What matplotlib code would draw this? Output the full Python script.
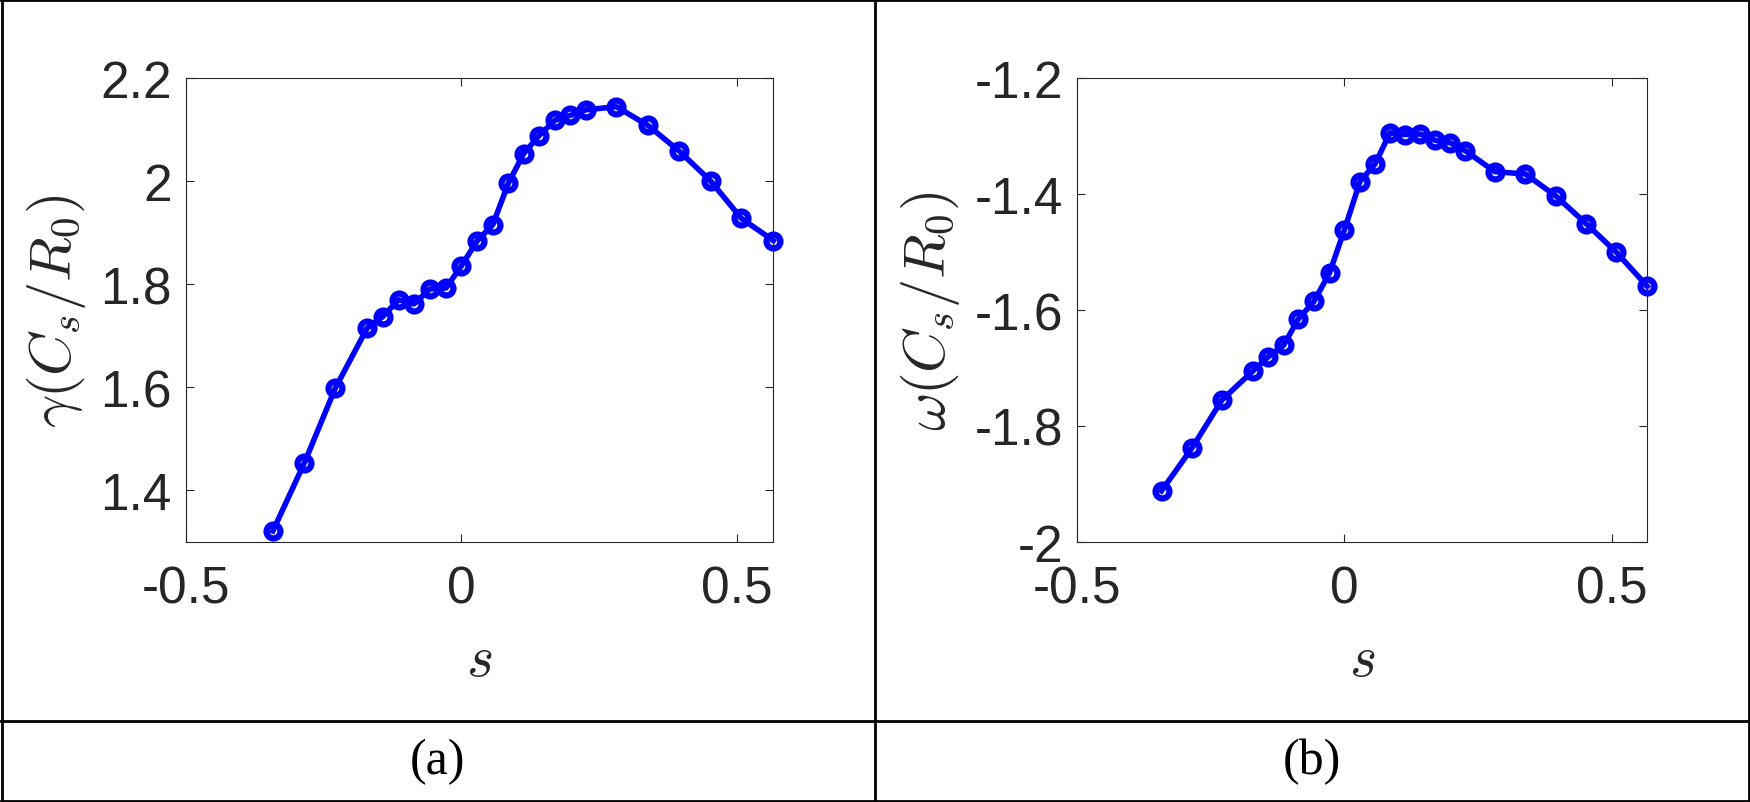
import matplotlib
matplotlib.use("Agg")
import matplotlib.pyplot as plt
from matplotlib.lines import Line2D
from matplotlib.ticker import FuncFormatter

# ---- data ----
s_vals = [-0.342, -0.285, -0.229, -0.171, -0.143, -0.114, -0.086, -0.057, -0.028, 0.0,
          0.029, 0.057, 0.085, 0.113, 0.141, 0.170, 0.197, 0.226, 0.281, 0.338,
          0.395, 0.452, 0.508, 0.566]
gamma_vals = [1.321, 1.453, 1.598, 1.715, 1.737, 1.770, 1.762, 1.791, 1.793, 1.836,
              1.885, 1.916, 1.996, 2.054, 2.089, 2.119, 2.128, 2.139, 2.145, 2.109,
              2.059, 2.001, 1.928, 1.885]
omega_vals = [-1.912, -1.838, -1.755, -1.705, -1.681, -1.661, -1.615, -1.585, -1.536, -1.461,
              -1.378, -1.348, -1.294, -1.297, -1.296, -1.307, -1.311, -1.325, -1.361, -1.365,
              -1.403, -1.451, -1.500, -1.559]
xticks = [-0.5, 0, 0.5]
gamma_ticks = [1.4, 1.6, 1.8, 2.0, 2.2]
omega_ticks = [-2.0, -1.8, -1.6, -1.4, -1.2]
panel_labels = ["(a)", "(b)"]

plt.rcParams["mathtext.fontset"] = "cm"
plt.rcParams["axes.unicode_minus"] = False
plt.rcParams["font.family"] = ["Liberation Sans", "DejaVu Sans"]

W, H = 1750, 803
fig = plt.figure(figsize=(W / 100, H / 100), dpi=100)

fmt = FuncFormatter(lambda v, p: "%g" % v)
axcol = "#262626"

def make_axes(left_px, right_px, ylim, yticks, ylabel, ylab_x):
    top_px, bot_px = 79.4, 542.8
    ax = fig.add_axes([left_px / W, 1 - bot_px / H, (right_px - left_px) / W, (bot_px - top_px) / H])
    ax.set_xlim(-0.5, max(s_vals))
    ax.set_ylim(*ylim)
    ax.set_xticks(xticks)
    ax.set_yticks(yticks)
    ax.xaxis.set_major_formatter(fmt)
    ax.yaxis.set_major_formatter(fmt)
    ax.tick_params(direction="in", length=6, width=0.8, color=axcol, labelcolor=axcol,
                   labelsize=37, top=True, right=True)
    ax.tick_params(axis="x", pad=16)
    ax.tick_params(axis="y", pad=10)
    for sp in ax.spines.values():
        sp.set_color(axcol)
        sp.set_linewidth(0.8)
    ax.set_xlabel(r"$s$", fontsize=42, color=axcol)
    ax.xaxis.set_label_coords(0.5, -0.196)
    ax.set_ylabel(ylabel, fontsize=42, color=axcol)
    ax.yaxis.set_label_coords(ylab_x, 0.5)
    return ax

line_kw = dict(color="#0000ff", lw=4.0, marker="o", ms=10, mew=4.5, mfc="none", clip_on=False)

ax1 = make_axes(185.8, 773.4, (1.3, 2.2), gamma_ticks, r"$\gamma(C_s/R_0)$", -0.166)
ax1.plot(s_vals, gamma_vals, **line_kw)

ax2 = make_axes(1077.0, 1647.3, (-2.0, -1.2), omega_ticks, r"$\omega(C_s/R_0)$", -0.2025)
ax2.plot(s_vals, omega_vals, **line_kw)

# ---- table frame ----
def fline(x0, y0, x1, y1, lw=2.0):
    fig.add_artist(Line2D([x0 / W, x1 / W], [1 - y0 / H, 1 - y1 / H], color="black",
                          lw=lw, transform=fig.transFigure, solid_capstyle="projecting"))

fline(1, 1, W - 1, 1)
fline(1, H - 1.5, W - 1, H - 1.5)
fline(1.5, 1, 1.5, H - 1)
fline(W - 1.5, 1, W - 1.5, H - 1)
fline(875, 1, 875, H - 1)
fline(1, 722, W - 1, 722)

for lab, cx in zip(panel_labels, [437, 1312]):
    fig.text(cx / W, 1 - 762 / H, lab, fontsize=36, ha="center", va="center",
             family=["Liberation Serif", "DejaVu Serif"], color="black")

fig.savefig("out.png", dpi=100)
